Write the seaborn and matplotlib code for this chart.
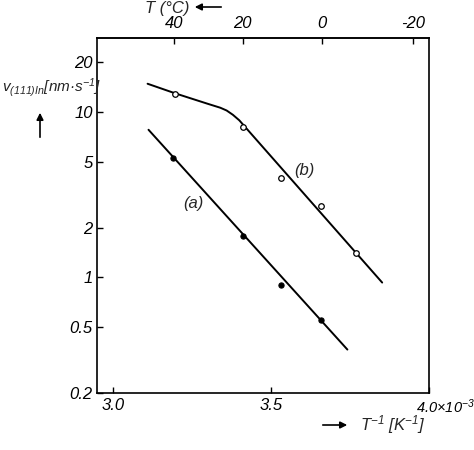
import numpy as np
import matplotlib
matplotlib.use("Agg")
import matplotlib.pyplot as plt
import seaborn as sns
from matplotlib.transforms import ScaledTranslation

# data (x in 1e-3 K^-1, y in nm/s)
a_pts_x = [3.192, 3.412, 3.531, 3.660]
a_pts_y = [5.3, 1.77, 0.90, 0.55]
a_line_x = [3.113, 3.742]
a_line_y = [7.8, 0.366]

b_pts_x = [3.198, 3.412, 3.531, 3.660, 3.770]
b_pts_y = [12.9, 8.1, 4.0, 2.7, 1.40]
b_line_x = [3.110, 3.20, 3.30, 3.34, 3.36, 3.38, 3.40, 3.852]
b_line_y = [14.8, 12.9, 11.2, 10.6, 10.2, 9.6, 8.9, 0.93]

y_ticks = [0.2, 0.5, 1, 2, 5, 10, 20]
y_labels = ["0.2", "0.5", "1", "2", "5", "10", "20"]
x_ticks = [3.0, 3.5, 4.0]
x_labels = ["3.0", "3.5", "4.0×10$^{-3}$"]
top_ticks = [40, 20, 0, -20]

sns.set_theme(style="ticks")
plt.rcParams["font.family"] = ["Liberation Sans", "DejaVu Sans"]
plt.rcParams["font.style"] = "italic"
plt.rcParams["axes.unicode_minus"] = False
plt.rcParams["mathtext.fontset"] = "custom"
plt.rcParams["mathtext.it"] = "Liberation Sans:italic"
plt.rcParams["mathtext.rm"] = "Liberation Sans:italic"

fig = plt.figure(figsize=(4.74, 4.5), dpi=100)
ax = fig.add_axes([0.2046, 0.1267, 0.7004, 0.789])

sns.lineplot(x=a_line_x, y=a_line_y, ax=ax, color="black", lw=1.4)
sns.lineplot(x=b_line_x, y=b_line_y, ax=ax, color="black", lw=1.4)
sns.scatterplot(x=a_pts_x, y=a_pts_y, ax=ax, color="black", s=14,
                edgecolor="black", linewidth=0.8, zorder=3)
sns.scatterplot(x=b_pts_x, y=b_pts_y, ax=ax, facecolor="white", s=16,
                edgecolor="black", linewidth=0.9, zorder=3)

ax.set_yscale("log")
ax.set_ylim(0.2, 28)
ax.set_xlim(2.95, 4.0)
ax.set_yticks(y_ticks, labels=y_labels)
ax.yaxis.set_minor_locator(matplotlib.ticker.NullLocator())
ax.set_xticks(x_ticks, labels=x_labels)
ax.tick_params(direction="in", length=4, width=1, labelsize=12, colors="black")
ax.tick_params(axis="y", pad=3)
for s in ax.spines.values():
    s.set_linewidth(1.2)
    s.set_color("black")

lab = ax.get_xticklabels()[2]
lab.set_ha("left")
lab.set_fontsize(10.5)
lab.set_transform(lab.get_transform() + ScaledTranslation(-0.13, 0, fig.dpi_scale_trans))

top = ax.secondary_xaxis("top", functions=(lambda x: 1000.0 / x - 273.15,
                                           lambda t: 1000.0 / (t + 273.15)))
top.set_xticks(top_ticks)
top.tick_params(direction="in", length=4, width=1, labelsize=12, colors="black", pad=5)

ax.text(3.255, 2.8, "(a)", fontsize=12, ha="center", va="center")
ax.text(3.607, 4.4, "(b)", fontsize=12, ha="center", va="center")

# axis titles and arrows
fig.text(0.005, 0.805, r"$v_{(111)In}$[nm·s$^{-1}$]", fontsize=11, ha="left", va="center")
ax.annotate("", xy=(40 / 474, 1 - 110 / 450), xytext=(40 / 474, 1 - 140 / 450),
            xycoords="figure fraction",
            arrowprops=dict(arrowstyle="-|>", color="black", lw=1.2, mutation_scale=10))
fig.text(360 / 474, 1 - 425 / 450, r"T$^{-1}$ [K$^{-1}$]", fontsize=12, ha="left", va="center")
ax.annotate("", xy=(350 / 474, 1 - 425 / 450), xytext=(320 / 474, 1 - 425 / 450),
            xycoords="figure fraction",
            arrowprops=dict(arrowstyle="-|>", color="black", lw=1.2, mutation_scale=10))
fig.text(145 / 474, 1 - 9 / 450, "T (°C)", fontsize=12, ha="left", va="center")
ax.annotate("", xy=(192 / 474, 1 - 7 / 450), xytext=(224 / 474, 1 - 7 / 450),
            xycoords="figure fraction",
            arrowprops=dict(arrowstyle="-|>", color="black", lw=1.2, mutation_scale=10))

fig.savefig("out.png", dpi=100)
